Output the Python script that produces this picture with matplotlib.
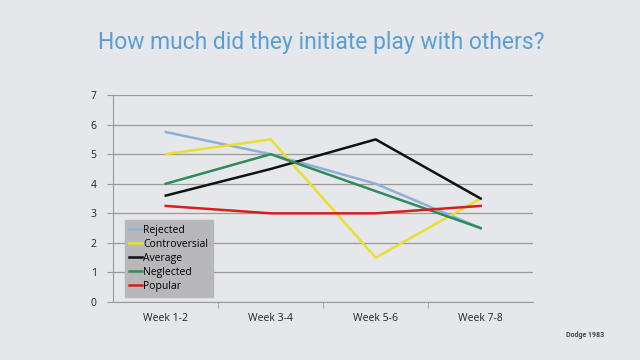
import matplotlib
matplotlib.use("Agg")
import matplotlib.pyplot as plt
import numpy as np

# data
weeks = ["Week 1-2", "Week 3-4", "Week 5-6", "Week 7-8"]
rejected = [5.75, 5.0, 4.0, 2.5]
controversial = [5.0, 5.5, 1.5, 3.5]
average = [3.6, 4.5, 5.5, 3.5]
neglected = [4.0, 5.0, 3.75, 2.5]
popular = [3.25, 3.0, 3.0, 3.25]

series = [
    ("Rejected", rejected, "#8fb0d6"),
    ("Controversial", controversial, "#e8e030"),
    ("Average", average, "#111111"),
    ("Neglected", neglected, "#2e8b5e"),
    ("Popular", popular, "#d61f1f"),
]

bg = "#e6e7ea"
fig = plt.figure(figsize=(6.4, 3.6), dpi=100, facecolor=bg)
ax = fig.add_axes([0.177, 0.161, 0.656, 0.575])
ax.set_facecolor(bg)

x = np.arange(len(weeks))
for name, vals, col in series:
    ax.plot(x, vals, color=col, lw=1.8, label=name)

ax.set_xlim(-0.5, len(weeks) - 0.5)
ax.set_ylim(0, 7)
ax.set_yticks(range(0, 8))
ax.set_xticks(x)
ax.set_xticklabels(weeks)
ax.set_xticks(np.arange(0.5, len(weeks) - 1, 1), minor=True)
ax.tick_params(axis="x", which="major", length=0, pad=8)
ax.tick_params(axis="x", which="minor", length=4, color="#999999")
ax.tick_params(axis="y", length=4, color="#999999", pad=8)
for lab in ax.get_xticklabels() + ax.get_yticklabels():
    lab.set_fontfamily("Open Sans")
    lab.set_fontsize(7.5)
    lab.set_color("#222222")

ax.grid(axis="y", color="#9a9a9a", lw=0.9)
ax.set_axisbelow(True)
for s in ["top", "right"]:
    ax.spines[s].set_visible(False)
ax.spines["left"].set_color("#999999")
ax.spines["bottom"].set_color("#999999")

leg = ax.legend(loc="lower left", bbox_to_anchor=(0.015, 0.0), frameon=True,
                fancybox=False, handlelength=1.2, handletextpad=0.1,
                borderpad=0.45, labelspacing=0.3,
                prop={"family": "Open Sans", "size": 7.5})
leg.get_frame().set_facecolor("#b8b8bb")
leg.get_frame().set_edgecolor("#b8b8bb")
leg.get_frame().set_alpha(1)

fig.text(0.502, 0.882, "How much did they initiate play with others?",
         ha="center", va="center", fontsize=16.5, color="#5a9fd4",
         family=["Roboto", "DejaVu Sans"])
fig.text(0.914, 0.07, "Dodge 1983", ha="center", va="center", fontsize=5,
         color="#444444", fontweight="bold", family=["Roboto", "DejaVu Sans"])

fig.savefig("out.png", dpi=100, facecolor=bg)
